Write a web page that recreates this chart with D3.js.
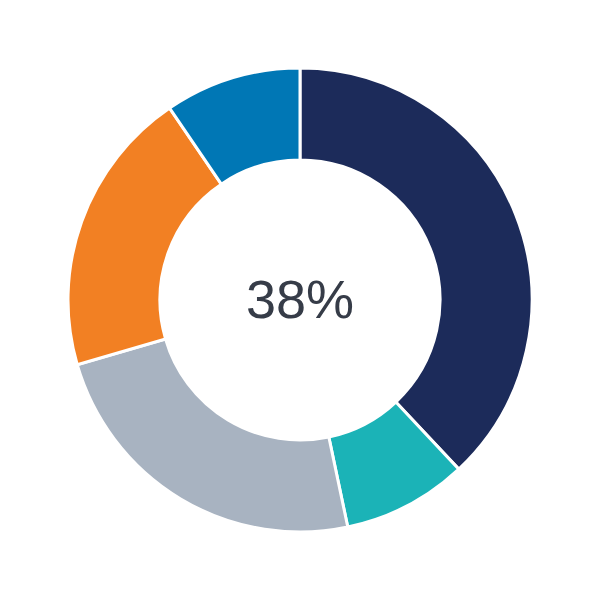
<!DOCTYPE html>
<html>
<head>
<meta charset="utf-8">
<script src="https://cdn.jsdelivr.net/npm/d3@7"></script>
<style>
  html, body { margin: 0; padding: 0; background: #fff; }
</style>
</head>
<body>
<div id="chart"></div>
<script>
// slice data, clockwise from 12 o'clock
const labels = ['A', 'B', 'C', 'D', 'E'];
const values = [38, 8.7, 23.8, 20, 9.5];
const colors = ['#1c2b5a', '#1bb3b7', '#a8b3c1', '#f28023', '#0077b5'];
const centerLabel = '38%';

const width = 600, height = 600;
const outerR = 232, innerR = 140;

const svg = d3.select('#chart')
  .append('svg')
  .attr('width', width)
  .attr('height', height);

const g = svg.append('g')
  .attr('transform', `translate(${width / 2},${height / 2})`);

const pie = d3.pie().sort(null).value(d => d.value);
const arc = d3.arc().innerRadius(innerR).outerRadius(outerR);

const data = labels.map((l, i) => ({ label: l, value: values[i], color: colors[i] }));

g.selectAll('path')
  .data(pie(data))
  .enter()
  .append('path')
  .attr('d', arc)
  .style('fill', d => d.data.color)
  .style('stroke', '#fff')
  .style('stroke-width', 3);

// center label
g.append('text')
  .attr('text-anchor', 'middle')
  .attr('dy', '0.33em')
  .style('font-family', 'Liberation Sans, Arial, sans-serif')
  .style('font-size', '54px')
  .style('fill', '#363c48')
  .text(centerLabel);
</script>
</body>
</html>
